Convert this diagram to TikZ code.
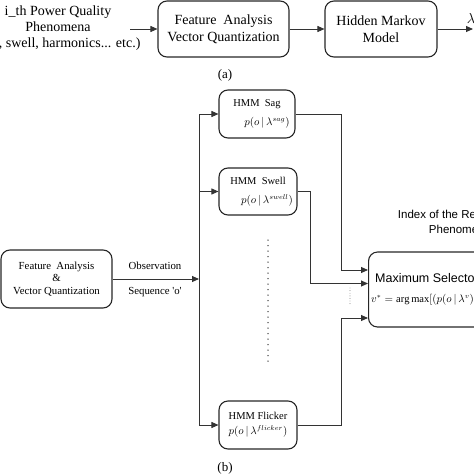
\documentclass[tikz,border=0pt]{standalone}
\usepackage{fontspec}
\setmainfont{Liberation Serif}
\newfontfamily\arialfont{Liberation Sans}
\usetikzlibrary{arrows.meta,calc}

\begin{document}
\begin{tikzpicture}[x=1pt,y=-1pt,
  box/.style={draw=black!85, line width=1.1pt, rounded corners=9pt, align=center, inner sep=0pt},
  flow/.style={draw=black!80, line width=0.9pt, -{Triangle[length=7pt,width=6pt]}},
  wire/.style={draw=black!80, line width=0.9pt},
  bigdots/.style={line width=1.5pt, line cap=round, dash pattern=on 0pt off 5.5pt, black!75},
  smalldots/.style={line width=0.9pt, line cap=round, dash pattern=on 0pt off 2.6pt, black!60}]

\def\toptxt{\fontsize{14}{17}\selectfont}
\def\subtxt{\fontsize{10.8}{12.5}\selectfont}

\path [use as bounding box] (0,0) rectangle (474,474);
\clip (0,0) rectangle (474,474);

% TRAINING (a)
\node [align=center, font=\fontsize{14}{16}\selectfont] (phen) at (58,28) {i\_th Power Quality\\Phenomena\\(sag, swell, harmonics... etc.)};
\coordinate (phenout) at (130,29);
\node [box, minimum width=131pt, minimum height=56pt, font=\toptxt] (fva) at (223.5,29) {Feature~~Analysis\\Vector Quantization};
\node [box, minimum width=112pt, minimum height=56pt, font=\toptxt] (hmm) at (381,29) {Hidden Markov\\Model};
\coordinate (lamout) at (473,29);
\node [font=\toptxt] (lam) at (471,18) {$\lambda$};

\draw [flow] (phenout) -- (fva);
\draw [flow] (fva) -- (hmm);
\draw [flow] (hmm) -- (lamout);

\node [font=\fontsize{13}{13}\selectfont] (capa) at (225,75) {(a)};

% RECOGNITION (b)
\node [box, minimum width=111pt, minimum height=58pt, font=\subtxt] (fab) at (56.5,279) {Feature~~Analysis\\\&\\Vector Quantization};
\coordinate (bus) at (199,279);
\node [font=\subtxt] (obs) at (155,266) {Observation};
\node [font=\subtxt] (seq) at (155,292) {Sequence \textquotesingle o\textquotesingle};

\node [box, minimum width=76pt, minimum height=48pt, font=\fontsize{10.5}{18.5}\selectfont] (sag) at (257,114) {HMM~~Sag\\\hspace*{20pt}$p(o\,\big|\,\lambda^{sag})$};
\node [box, minimum width=78pt, minimum height=47pt, font=\fontsize{10.5}{18.5}\selectfont] (swell) at (258,191.5) {HMM~~Swell\\\hspace*{18pt}$p(o\,\big|\,\lambda^{swell})$};
\node [box, minimum width=78pt, minimum height=48pt, font=\fontsize{10.5}{15}\selectfont] (flicker) at (258,425) {HMM Flicker\\$p(o\,\big|\,\lambda^{flicker})$};

\draw [bigdots] (268,240) -- (268,364);

% SELECTOR
\node [box, minimum width=180pt, minimum height=75pt, anchor=west] (maxsel) at (368,289.5) {};
\node [anchor=base west, inner sep=0pt, font=\arialfont\fontsize{12.5}{15}\selectfont] (maxtxt) at (375,282) {Maximum Selector};
\node [anchor=base west, inner sep=0pt, font=\fontsize{10.5}{11}\selectfont] (maxeq) at (371,302) {$v^{*} = \arg\max\bigl[\bigl(p(o\,|\,\lambda^{v})\bigr)\bigr]$};
\node [align=center, font=\arialfont\fontsize{11.5}{15}\selectfont] (idx) at (460,222) {Index of the Recognized\\Phenomena};

\coordinate (sagin) at ($(maxsel.west)+(0,-19.5)$);
\coordinate (swellin) at ($(maxsel.west)+(0,-6)$);
\coordinate (flickin) at ($(maxsel.west)+(0,28.5)$);

% WIRES
\draw [flow] (fab) -- (bus);
\draw [wire] (bus |- sag.west) -- (bus |- flicker.west);
\draw [flow] (bus |- sag.west) -- (sag.west);
\draw [flow] (bus |- swell.west) -- (swell.west);
\draw [flow] (bus |- flicker.west) -- (flicker.west);

\draw [flow] (sag.east) -- ++(46,0) |- (sagin);
\draw [flow] (swell.east) -- ++(13,0) |- (swellin);
\draw [flow] (flicker.east) -- ++(44,0) |- (flickin);
\draw [smalldots] (350,288) -- (350,305);

\node [font=\fontsize{13}{13}\selectfont] (capb) at (225,468) {(b)};

\end{tikzpicture}
\end{document}
